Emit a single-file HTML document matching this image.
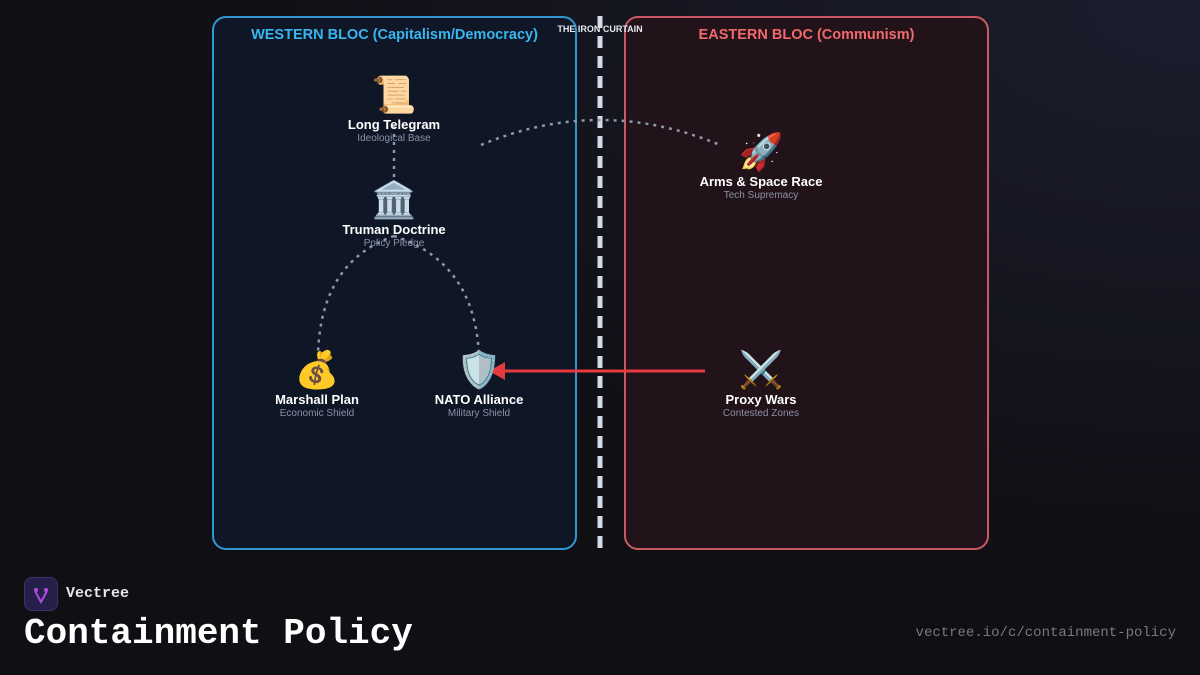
<!DOCTYPE html>
<html><head><meta charset="utf-8"><style>
html,body{margin:0;padding:0}
body{width:1200px;height:675px;overflow:hidden;position:relative;background:#0f0f14;font-family:"Liberation Sans",sans-serif}
.bg{position:absolute;inset:0;background:radial-gradient(ellipse at 100% 0%,#1c1e2e 0%,rgba(20,20,30,0) 60%)}
.box{position:absolute;top:16px;height:530px;width:361px;border-radius:14px}
.w{left:212px;background:#0f1626;border:2px solid #2e97cf}
.e{left:624px;background:#22121a;border:2px solid #c95a62}
.bt{position:absolute;font-weight:bold;font-size:14.5px;text-align:center;width:361px}
.n{position:absolute;width:180px;text-align:center;color:#fff}
.n .i{font-size:36px;line-height:40px;height:42px;font-family:"Noto Color Emoji","DejaVu Sans",sans-serif}
.n .t{font-weight:bold;font-size:13px;line-height:15px}
.n .s{font-size:10px;color:#8a93a6;line-height:13px}
svg{position:absolute;left:0;top:0}
.mono{font-family:"Liberation Mono",monospace}
</style></head><body>
<div class="bg"></div>
<div class="box w"><div class="bt" style="color:#38b6f0;top:9px">WESTERN BLOC (Capitalism/Democracy)</div></div>
<div class="box e"><div class="bt" style="color:#f06a6a;top:9px">EASTERN BLOC (Communism)</div></div>
<svg width="1200" height="675">
<line x1="600" y1="16" x2="600" y2="549" stroke="#d3dbe6" stroke-width="5" stroke-dasharray="12,8"/>
<g fill="none" stroke="#8d98ab" stroke-width="2.5" stroke-dasharray="3,5">
<line x1="394" y1="126" x2="394" y2="180"/>
<path d="M394,236 Q320,262 318,356"/>
<path d="M394,236 Q475,262 479,356"/>
<path d="M481,145 Q600,95 720,145"/>
</g>
<line x1="705" y1="371" x2="500" y2="371" stroke="#e5393e" stroke-width="3"/>
<polygon points="489,371 505,362 505,380" fill="#e5393e"/>
</svg>
<div style="position:absolute;left:540px;top:24px;width:120px;text-align:center;font-size:9px;font-weight:bold;color:#e6e9ef">THE IRON CURTAIN</div>
<div class="n" style="left:304px;top:75px"><div class="i">📜</div><div class="t">Long Telegram</div><div class="s">Ideological Base</div></div>
<div class="n" style="left:304px;top:180px"><div class="i">🏛️</div><div class="t">Truman Doctrine</div><div class="s">Policy Pledge</div></div>
<div class="n" style="left:227px;top:350px"><div class="i">💰</div><div class="t">Marshall Plan</div><div class="s">Economic Shield</div></div>
<div class="n" style="left:389px;top:350px"><div class="i">🛡️</div><div class="t">NATO Alliance</div><div class="s">Military Shield</div></div>
<div class="n" style="left:671px;top:132px"><div class="i">🚀</div><div class="t">Arms &amp; Space Race</div><div class="s">Tech Supremacy</div></div>
<div class="n" style="left:671px;top:350px"><div class="i">⚔️</div><div class="t">Proxy Wars</div><div class="s">Contested Zones</div></div>
<div style="position:absolute;left:24px;top:577px;width:32px;height:32px;border-radius:8px;background:#25204a;border:1px solid #3a3370">
<svg width="32" height="32" style="position:absolute;left:0;top:0"><path d="M10,13 L16,24 L22,13" fill="none" stroke="#b04ae0" stroke-width="2"/><circle cx="11" cy="12" r="2" fill="#b04ae0"/><circle cx="21" cy="12" r="2" fill="#b04ae0"/></svg></div>
<div class="mono" style="position:absolute;left:66px;top:585px;font-size:15px;font-weight:bold;color:#e6e6ea">Vectree</div>
<div class="mono" style="position:absolute;left:24px;top:612px;font-size:36px;font-weight:bold;color:#fff;line-height:44px">Containment Policy</div>
<div class="mono" style="position:absolute;right:24px;top:625px;font-size:14px;color:#777a82">vectree.io/c/containment-policy</div>
</body></html>
